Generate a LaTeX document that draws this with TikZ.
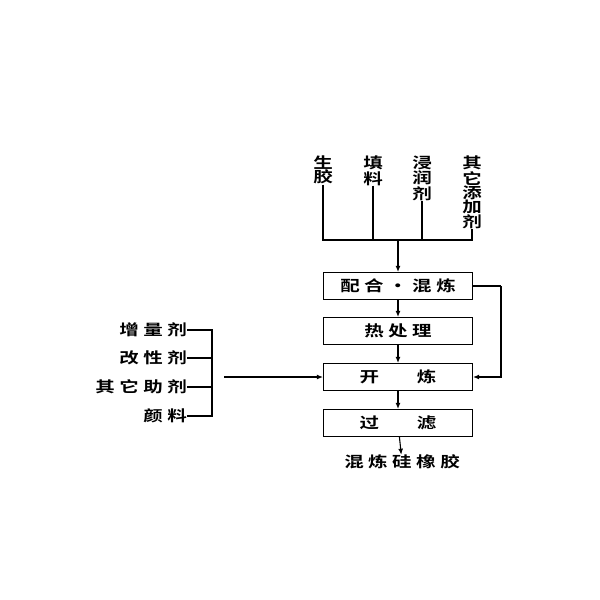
\documentclass[tikz,border=0pt]{standalone}
\usepackage{fontspec}
\newfontfamily\cjk{Noto Sans CJK SC}[FakeStretch=1.3,BoldFont=Noto Sans CJK SC Bold,BoldFeatures={FakeStretch=1.3}]
\usetikzlibrary{arrows.meta}
\begin{document}
\begin{tikzpicture}[x=1pt,y=-1pt,
  every node/.style={font=\cjk\bfseries\fontsize{15}{14}\selectfont, inner sep=0pt},
  hlabel/.style={font=\cjk\bfseries\fontsize{15}{14}\selectfont\addfontfeature{LetterSpace=30}},
  vlabel/.style={align=center, anchor=north},
  procbox/.style={draw, line width=1.1pt, minimum width=149pt, minimum height=27pt,
    font=\cjk\bfseries\fontsize{15}{14}\selectfont\addfontfeature{LetterSpace=30}},
  ln/.style={line width=1.1pt},
  arr/.style={line width=1.1pt, -{Latex[length=6pt,width=5pt]}}]
\useasboundingbox (0,0) rectangle (600,600);
% top inputs
\node[vlabel] (sj) at (323,156) {生\\胶};
\node[vlabel] (tl) at (373,156) {填\\料};
\node[vlabel] (jr) at (422,156) {浸\\润\\剂};
\node[vlabel] (qt) at (472,156) {其\\它\\添\\加\\剂};
\coordinate (h1) at (323,240);
\coordinate (h2) at (373,240);
\coordinate (h3) at (422,240);
\coordinate (h4) at (472,240);
\coordinate (hm) at (398,240);
\draw[ln] (sj.south) -- (h1) -- (h4) -- (qt.south);
\draw[ln] (tl.south) -- (h2);
\draw[ln] (jr.south) -- (h3);
% process boxes
\node[procbox] (b1) at (398,286) {配合・混炼};
\node[procbox] (b2) at (398,331) {热处理};
\node[procbox] (b3) at (398,377) {开\hspace{38pt}炼};
\node[procbox] (b4) at (398,423) {过\hspace{38pt}滤};
\node[hlabel] (out) at (402,462) {混炼硅橡胶};
\draw[arr] (hm) -- (b1.north);
\draw[arr] (b1) -- (b2);
\draw[arr] (b2) -- (b3);
\draw[arr] (b3) -- (b4);
\draw[arr] (b4) -- (out);
% feedback loop
\coordinate (r1) at (501,286);
\coordinate (r2) at (501,377);
\draw[ln] (b1.east) -- (r1);
\draw[arr] (r1) -- (r2) -- (b3.east);
% left inputs
\node[hlabel, anchor=east] (zl) at (187,330) {增量剂};
\node[hlabel, anchor=east] (gx) at (187,358) {改性剂};
\node[hlabel, anchor=east] (qz) at (187,387) {其它助剂};
\node[hlabel, anchor=east] (yl) at (187,416) {颜料};
\coordinate (v1) at (212,330);
\coordinate (v2) at (212,358);
\coordinate (v3) at (212,387);
\coordinate (v4) at (212,416);
\draw[ln] (zl.east) -- (v1) -- (v4) -- (yl.east);
\draw[ln] (gx.east) -- (v2);
\draw[ln] (qz.east) -- (v3);
\coordinate (la) at (224,377);
\draw[arr] (la) -- (b3.west);
\end{tikzpicture}
\end{document}
